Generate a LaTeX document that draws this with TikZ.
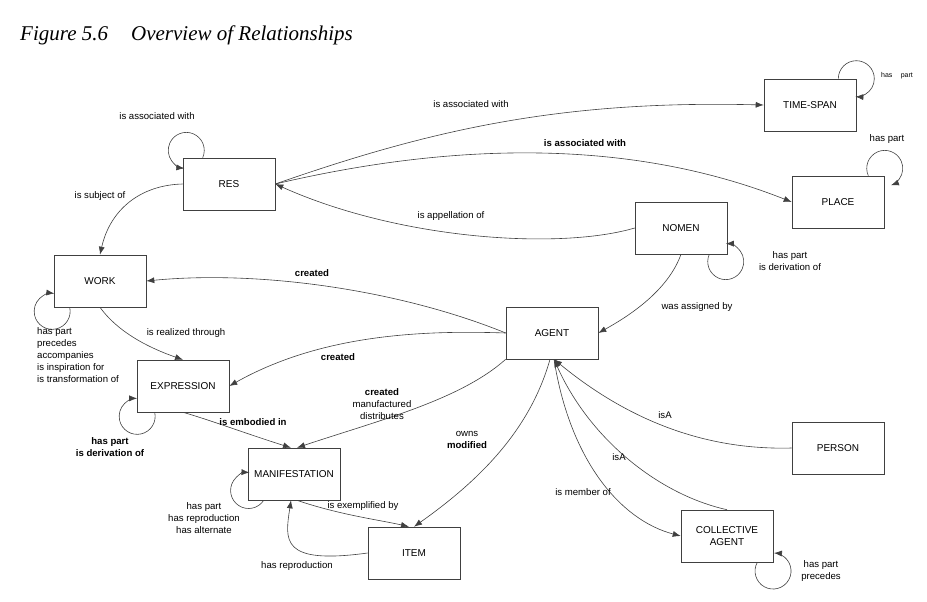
\documentclass[tikz,border=0pt]{standalone}
\usepackage{fontspec}
\setmainfont{Liberation Sans}
\newfontfamily\titlefont{Liberation Serif}
\usetikzlibrary{calc, arrows.meta}
\begin{document}
\begin{tikzpicture}[x=1pt, y=-1pt,
  box/.style={draw=black!75, line width=0.6pt, minimum width=92pt, minimum height=52pt,
    inner sep=0pt, font=\fontsize{10}{11.5}\selectfont, align=center},
  rel/.style={draw=black!75, line width=0.6pt, -{Latex[length=8pt,width=6pt]}},
  loop/.style={rel},
  lbl/.style={font=\fontsize{9.6}{12}\selectfont, align=center, inner sep=0pt},
  lbb/.style={lbl, font=\fontsize{9.6}{12}\selectfont\bfseries}]
\useasboundingbox (0,0) rectangle (927,602);

% title
\node[anchor=west, inner sep=0pt, font=\titlefont\itshape\fontsize{21}{24}\selectfont] (title) at (20,35)
  {Figure 5.6\hspace{1.1em}Overview of Relationships};

% entities
\node[box] (res) at (229,184) {RES};
\node[box] (work) at (100,281) {WORK};
\node[box] (expr) at (183,386) {EXPRESSION};
\node[box] (manif) at (294,474) {MANIFESTATION};
\node[box] (item) at (414,553) {ITEM};
\node[box] (agent) at (552,333) {AGENT};
\node[box] (nomen) at (681,228) {NOMEN};
\node[box] (time) at (810,105) {TIME-SPAN};
\node[box] (place) at (838,202) {PLACE};
\node[box] (person) at (838,448) {PERSON};
\node[box] (coll) at (727,536) {COLLECTIVE\\AGENT};

% loops (screen angles, y down)
\draw[loop] ($(res.north west)+(20,0)$) arc[start angle=24, end angle=-264, radius=18];
\draw[loop] ($(work.south west)+(16,0)$) arc[start angle=-13, end angle=277, radius=18];
\draw[loop] ($(expr.south west)+(18,0)$) arc[start angle=-13, end angle=270, radius=18];
\draw[loop] ($(manif.south west)+(16,0)$) arc[start angle=33, end angle=273, radius=18];
\draw[loop] ($(nomen.south east)+(-18,0)$) arc[start angle=204, end angle=-90, radius=18];
\draw[loop] ($(time.north east)+(-18,0)$) arc[start angle=180, end angle=453, radius=18];
\draw[loop] ($(place.north east)+(-16,0)$) arc[start angle=156, end angle=430, radius=18];
\draw[loop] ($(coll.south east)+(-16,0)$) arc[start angle=209, end angle=-87, radius=18];

% connectors
\draw[rel] (res.west) .. controls (140,185) and (110,210) .. (work.north);
\draw[rel] (res.east) .. controls (430,130) and (560,100) .. (time.west);
\draw[rel] (res.east) .. controls (420,150) and (610,130) .. (place.west);
\draw[rel] (nomen.west) .. controls (560,250) and (400,240) .. (res.east);
\draw[rel] (nomen.south) .. controls (670,285) and (640,310) .. (agent.east);
\draw[rel] (agent.west) .. controls (400,290) and (260,270) .. (work.east);
\draw[rel] (agent.west) .. controls (420,330) and (320,335) .. (expr.east);
\draw[rel] (agent.south west) .. controls (460,400) and (380,420) .. ($(manif.north)+(3,0)$);
\draw[rel] (expr.south) .. controls (210,420) and (250,435) .. ($(manif.north)+(-3,0)$);
\draw[rel] (work.south) .. controls (120,335) and (155,350) .. (expr.north);
\draw[rel] ($(manif.south)+(3,0)$) .. controls (340,515) and (380,520) .. ($(item.north)+(-5,0)$);
\draw[rel] (item.west) .. controls (280,565) and (285,540) .. ($(manif.south)+(-3,0)$);
\draw[rel] ($(agent.south)+(-2,0)$) .. controls (530,430) and (480,480) .. (item.north);
\draw[rel] (person.west) .. controls (720,450) and (640,430) .. ($(agent.south)+(2,0)$);
\draw[rel] (coll.north) .. controls (660,495) and (590,440) .. ($(agent.south)+(2,0)$);
\draw[rel] ($(agent.south)+(2,0)$) .. controls (570,460) and (620,520) .. (coll.west);

% labels
\node[lbl] (l1) at (157,116) {is associated with};
\node[lbl] (l2) at (100,196) {is subject of};
\node[lbl] (l3) at (471,104) {is associated with};
\node[lbb] (l4) at (585,143) {is associated with};
\node[lbl] (l5) at (451,216) {is appellation of};
\node[lbl] (l6) at (790,261) {has part\\is derivation of};
\node[lbl] (l7) at (697,307) {was assigned by};
\node[lbl, font=\fontsize{7}{8}\selectfont] (l8) at (897,76) {has\hspace{1.2em}part};
\node[lbl] (l9) at (887,139) {has part};
\node[lbb] (l10) at (312,273) {created};
\node[lbb] (l11) at (338,357) {created};
\node[lbl] (l12) at (382,404) {\textbf{created}\\manufactured\\distributes};
\node[lbb] (l13) at (253,422) {is embodied in};
\node[lbl] (l14) at (186,333) {is realized through};
\node[lbl, align=left, anchor=north west] (l15) at (37,327) {has part\\precedes\\accompanies\\is inspiration for\\is transformation of};
\node[lbb] (l16) at (110,447) {has part\\is derivation of};
\node[lbl] (l17) at (204,518) {has part\\has reproduction\\has alternate};
\node[lbl] (l18) at (363,506) {is exemplified by};
\node[lbl] (l19) at (297,566) {has reproduction};
\node[lbl] (l20) at (467,440) {owns\\\textbf{modified}};
\node[lbl] (l21) at (665,415) {isA};
\node[lbl] (l22) at (619,457) {isA};
\node[lbl] (l23) at (583,492) {is member of};
\node[lbl] (l24) at (821,571) {has part\\precedes};
\end{tikzpicture}
\end{document}
